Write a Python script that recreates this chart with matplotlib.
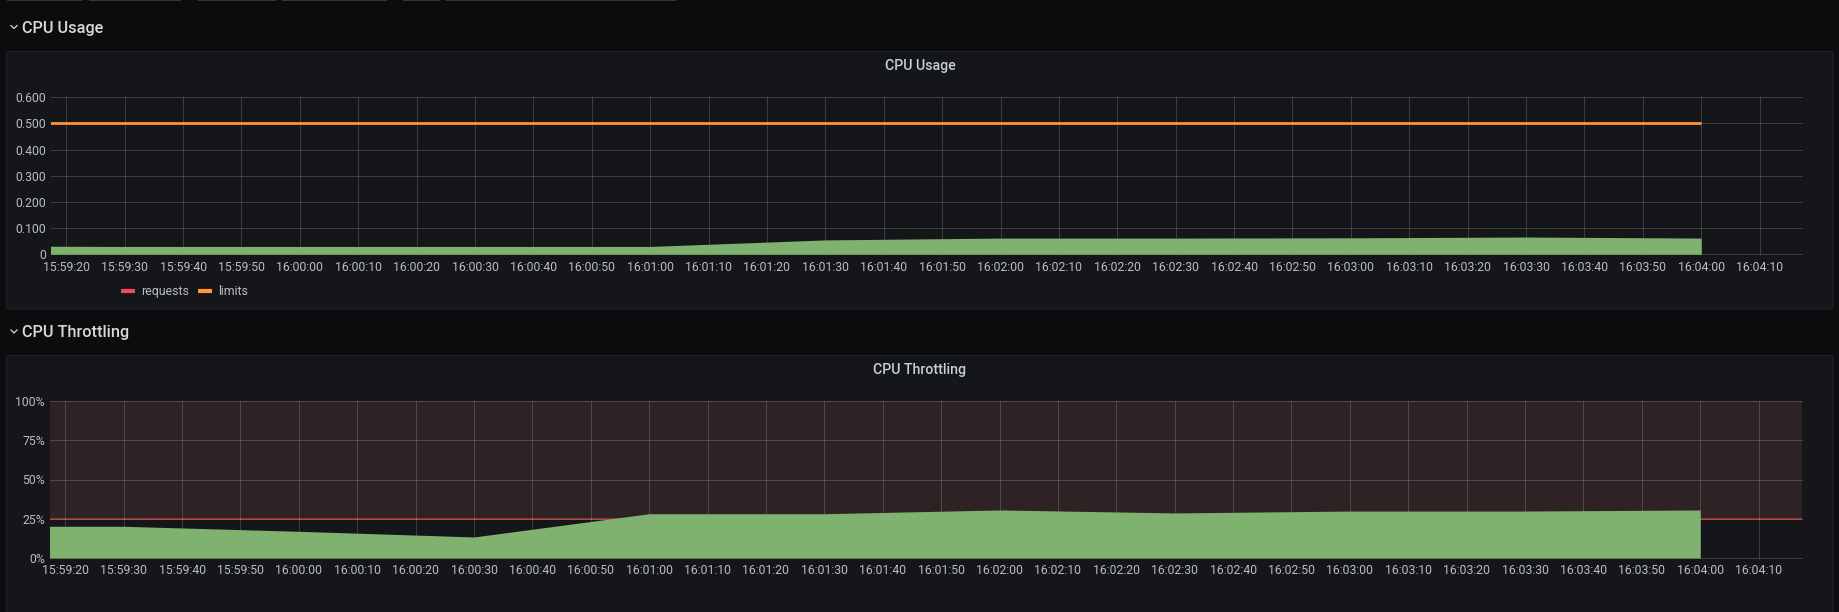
import matplotlib
matplotlib.use("Agg")
import matplotlib.pyplot as plt
import matplotlib.dates as mdates
import pandas as pd
from matplotlib.lines import Line2D
from matplotlib.patches import Rectangle, FancyBboxPatch

# ---------- data ----------
sample_times = ["15:59:00", "15:59:30", "16:00:00", "16:00:30", "16:01:00", "16:01:30",
                "16:02:00", "16:02:30", "16:03:00", "16:03:30", "16:04:00"]
cpu_usage = [0.032, 0.030, 0.030, 0.030, 0.030, 0.055, 0.062, 0.062, 0.063, 0.066, 0.062]
cpu_requests = [0.5] * 11
cpu_limits = [0.5] * 11
cpu_throttling = [20.2, 20.2, 17.0, 13.4, 28.2, 28.2, 30.6, 28.7, 29.9, 29.9, 30.6]
throttle_threshold = 25
usage_yticks = [0, 0.1, 0.2, 0.3, 0.4, 0.5, 0.6]
usage_ylabels = ["0", "0.100", "0.200", "0.300", "0.400", "0.500", "0.600"]
throttle_yticks = [0, 25, 50, 75, 100]
throttle_ylabels = ["0%", "25%", "50%", "75%", "100%"]
first_tick = "15:59:20"
tick_count = 30

# ---------- style ----------
W, H = 1840, 612
BG = "#0b0c0e"
PANEL = "#141619"
EDGE = "#202226"
GREEN = "#7fb26e"
ORANGE = "#ff9830"
RED = "#f2495c"
TICK = "#b9bdc2"
HEAD = "#d8d9da"
TITLE = "#c7d0d9"
plt.rcParams["font.family"] = ["Roboto", "DejaVu Sans"]

fig = plt.figure(figsize=(W / 100, H / 100), dpi=100, facecolor=BG)

# overlay in pixel coordinates for page furniture
bg = fig.add_axes([0, 0, 1, 1], zorder=0)
bg.set_xlim(0, W)
bg.set_ylim(H, 0)
bg.axis("off")

for x0, x1 in [(7, 82), (89, 181), (198, 276), (282, 387), (403, 440), (446, 676)]:
    bg.add_patch(Rectangle((x0, 0), x1 - x0, 1.2, fc="#33363a", ec="none"))

for top, bottom in [(51.5, 309), (355.5, 640)]:
    bg.add_patch(FancyBboxPatch((6.5, top), 1826.5, bottom - top,
                                boxstyle="round,pad=0,rounding_size=2",
                                fc=PANEL, ec=EDGE, lw=0.8))

for y, head in [(27, "CPU Usage"), (331.5, "CPU Throttling")]:
    bg.plot([11, 14, 17], [y - 1.5, y + 1.5, y - 1.5], color=HEAD, lw=0.9)
    bg.text(22, y + 1.2, head, color=HEAD, fontsize=11.7, fontweight="medium", va="center", ha="left")
for y, title in [(65, "CPU Usage"), (369.5, "CPU Throttling")]:
    bg.text(920, y + 0.8, title, color=TITLE, fontsize=10.2, fontweight="medium", va="center", ha="center")


def make_axes(left, top, right, bottom):
    return fig.add_axes([left / W, 1 - bottom / H, (right - left) / W, (bottom - top) / H],
                        zorder=1, facecolor="none")


times = pd.to_datetime(["2024-01-01 " + t for t in sample_times])
tick0 = pd.Timestamp("2024-01-01 " + first_tick)
ticks = [tick0 + pd.Timedelta(seconds=10 * i) for i in range(tick_count)]


def style(ax, px_left, yticks, ylabels, ylim, px_tick0):
    px_per_s = 58.39 / 10
    ax.set_xlim(tick0 - pd.Timedelta(seconds=(px_tick0 - px_left) / px_per_s),
                tick0 + pd.Timedelta(seconds=(1802 - px_tick0) / px_per_s))
    ax.set_ylim(*ylim)
    ax.set_xticks(ticks)
    ax.xaxis.set_major_formatter(mdates.DateFormatter("%H:%M:%S"))
    ax.set_yticks(yticks)
    ax.set_yticklabels(ylabels)
    ax.tick_params(axis="both", length=0, labelcolor=TICK, labelsize=8.8)
    ax.tick_params(axis="x", pad=4.6)
    ax.tick_params(axis="y", pad=3.6)
    ax.grid(True, color="#ffffff", alpha=0.17, lw=0.75, zorder=1)
    ax.set_axisbelow(False)
    for line in ax.get_xgridlines() + ax.get_ygridlines():
        line.set_zorder(1)
        line.set_clip_on(False)
    for spine in ax.spines.values():
        spine.set_visible(False)


# ---------- CPU Usage ----------
ax1 = make_axes(51, 97.3, 1802, 254.3)
ax1.fill_between(times, cpu_usage, 0, color=GREEN, lw=0, zorder=3)
ax1.plot(times, cpu_requests, color=RED, lw=1.8, zorder=4, solid_capstyle="butt")
ax1.plot(times, cpu_limits, color=ORANGE, lw=1.8, zorder=5, solid_capstyle="butt")
style(ax1, 51, usage_yticks, usage_ylabels, (0, 0.6), 66.3)
leg = ax1.legend(handles=[Line2D([], [], color=RED, lw=3, solid_capstyle="butt", label="requests"),
                          Line2D([], [], color=ORANGE, lw=3, solid_capstyle="butt", label="limits")],
                 loc="center left", bbox_to_anchor=(121 / W, 1 - 291.5 / H),
                 bbox_transform=fig.transFigure, ncol=2, frameon=False, fontsize=8.8,
                 handlelength=1.13, handletextpad=0.55, columnspacing=0.7,
                 borderpad=0, borderaxespad=0, labelcolor=TICK)

# ---------- CPU Throttling ----------
ax2 = make_axes(50, 401, 1802, 558)
ax2.axhspan(throttle_threshold, 100, color="#2e2224", lw=0, zorder=0)
ax2.axhline(throttle_threshold, color="#b0392f", lw=1.1, zorder=2)
ax2.fill_between(times, cpu_throttling, 0, color=GREEN, lw=0, zorder=3)
style(ax2, 50, throttle_yticks, throttle_ylabels, (0, 100), 65.3)

fig.savefig("out.png", dpi=100, facecolor=BG)
